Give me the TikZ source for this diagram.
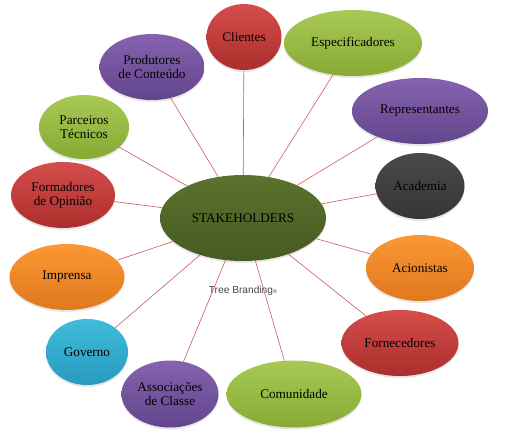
\documentclass[tikz,border=0pt]{standalone}
\usepackage{fontspec}
\setmainfont{Liberation Serif}
\newfontfamily\brandfont{Liberation Sans}
\usetikzlibrary{shapes.geometric,shadows}
\definecolor{redtop}{RGB}{212,78,75}
\definecolor{redbot}{RGB}{172,46,44}
\definecolor{greentop}{RGB}{168,202,84}
\definecolor{greenbot}{RGB}{134,170,52}
\definecolor{purpletop}{RGB}{134,98,174}
\definecolor{purplebot}{RGB}{98,70,140}
\definecolor{greytop}{RGB}{74,74,74}
\definecolor{greybot}{RGB}{54,54,54}
\definecolor{orangetop}{RGB}{250,152,52}
\definecolor{orangebot}{RGB}{224,120,30}
\definecolor{bluetop}{RGB}{64,188,218}
\definecolor{bluebot}{RGB}{40,154,190}
\definecolor{olivetop}{RGB}{92,114,46}
\definecolor{olivebot}{RGB}{70,90,34}
\definecolor{linkred}{RGB}{204,90,92}
\tikzstyle{ball} = [ellipse, inner sep=0pt, text centered, align=center, font=\fontsize{13.2}{14}\selectfont, drop shadow={shadow xshift=0pt, shadow yshift=-2pt, opacity=0.2}]
\tikzstyle{redball} = [ball, top color=redtop, bottom color=redbot]
\tikzstyle{greenball} = [ball, top color=greentop, bottom color=greenbot]
\tikzstyle{purpleball} = [ball, top color=purpletop, bottom color=purplebot]
\tikzstyle{greyball} = [ball, top color=greytop, bottom color=greybot]
\tikzstyle{orangeball} = [ball, top color=orangetop, bottom color=orangebot]
\tikzstyle{blueball} = [ball, top color=bluetop, bottom color=bluebot]
\tikzstyle{stakeball} = [ball, top color=olivetop, bottom color=olivebot]
\tikzstyle{link} = [draw=linkred, line width=0.6pt]

\begin{document}
\begin{tikzpicture}[node distance=100pt]

\useasboundingbox (0,0) rectangle (512pt,437pt);

\node (stake) [stakeball, minimum width=166pt, minimum height=86pt] at (243pt,219pt) {STAKEHOLDERS};

\node (clientes) [redball, above of=stake, xshift=1pt, yshift=81pt, minimum width=75pt, minimum height=66pt] {Clientes};
\node (espec) [greenball, above of=stake, xshift=110pt, yshift=75pt, minimum width=138pt, minimum height=66pt] {Especificadores};
\node (produtores) [purpleball, above of=stake, xshift=-91pt, yshift=51pt, minimum width=105pt, minimum height=66pt] {Produtores\\de Conteúdo};

\node (repres) [purpleball, right of=stake, xshift=77pt, yshift=107pt, minimum width=136pt, minimum height=66pt] {Representantes};
\node (academia) [greyball, right of=stake, xshift=77pt, yshift=32pt, minimum width=89pt, minimum height=66pt] {Academia};
\node (acionistas) [orangeball, right of=stake, xshift=77pt, yshift=-50pt, minimum width=108pt, minimum height=66pt] {Acionistas};
\node (fornec) [redball, right of=stake, xshift=57pt, yshift=-125pt, minimum width=117pt, minimum height=66pt] {Fornecedores};

\node (comunidade) [greenball, below of=stake, xshift=51pt, yshift=-76pt, minimum width=135pt, minimum height=67pt] {Comunidade};
\node (assoc) [purpleball, below of=stake, xshift=-73pt, yshift=-76pt, minimum width=97pt, minimum height=67pt] {Associações\\de Classe};

\node (governo) [blueball, left of=stake, xshift=-56pt, yshift=-134pt, minimum width=82pt, minimum height=66pt] {Governo};
\node (imprensa) [orangeball, left of=stake, xshift=-76pt, yshift=-59pt, minimum width=115pt, minimum height=66pt] {Imprensa};
\node (formadores) [redball, left of=stake, xshift=-80pt, yshift=23pt, minimum width=104pt, minimum height=66pt] {Formadores\\de Opinião};
\node (parceiros) [greenball, left of=stake, xshift=-59pt, yshift=91pt, minimum width=90pt, minimum height=64pt] {Parceiros\\Técnicos};

\node (brand) [below of=stake, yshift=27pt, text=black!72, font=\brandfont\fontsize{10.2}{11}\selectfont] {Tree Branding{\fontsize{5.5}{5.5}\selectfont ®}};

\draw [link] (stake) -- (clientes);
\draw [link] (stake) -- (espec);
\draw [link] (stake) -- (produtores);
\draw [link] (stake) -- (repres);
\draw [link] (stake) -- (academia);
\draw [link] (stake) -- (acionistas);
\draw [link] (stake) -- (fornec);
\draw [link] (stake) -- (comunidade);
\draw [link] (stake) -- (assoc);
\draw [link] (stake) -- (governo);
\draw [link] (stake) -- (imprensa);
\draw [link] (stake) -- (formadores);
\draw [link] (stake) -- (parceiros);

\end{tikzpicture}
\end{document}
